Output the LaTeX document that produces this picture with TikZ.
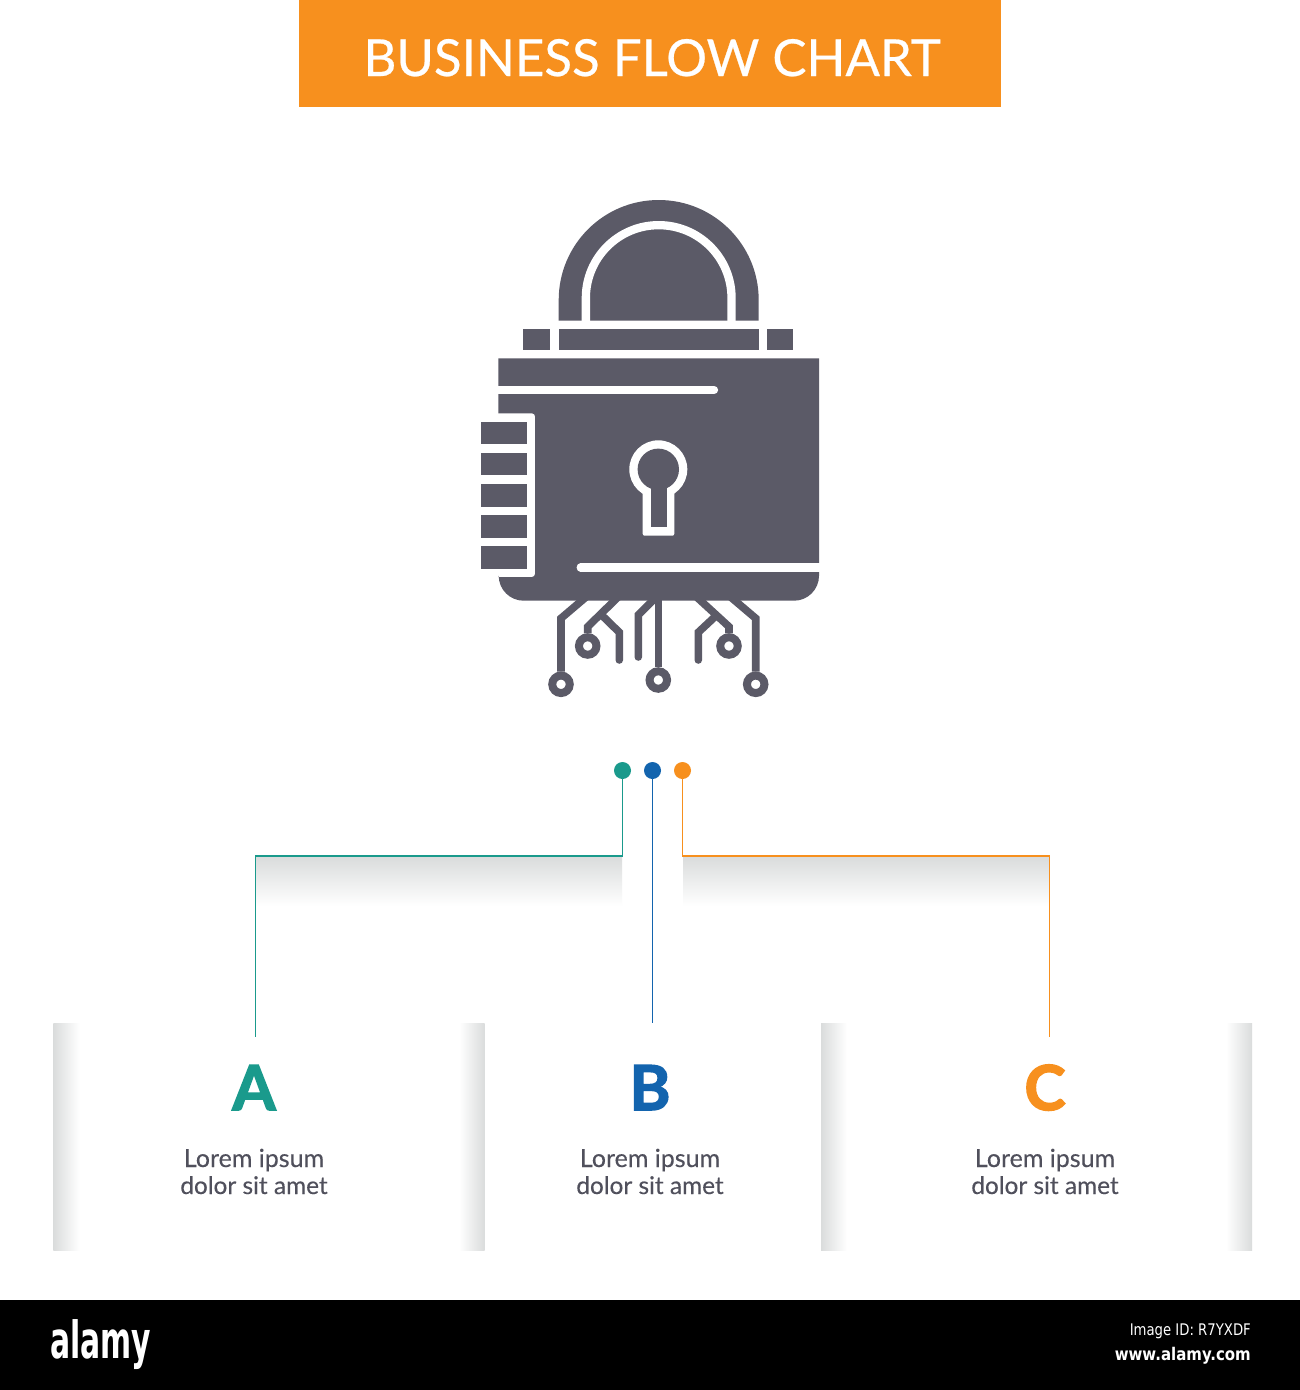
\documentclass[tikz,border=0pt]{standalone}
\usepackage{fontspec}
\usepackage{graphicx}
\setmainfont{Lato}
\newfontfamily\foot{DejaVu Sans}
\newfontfamily\midf[FakeBold=0.5]{Lato}
\newfontfamily\lightf[FakeBold=0.25]{Lato}
\newfontfamily\blackf[BoldFeatures={FakeBold=2.5}]{Lato}
\definecolor{icon}{HTML}{5B5A67}
\definecolor{txt}{HTML}{50505C}
\definecolor{cteal}{HTML}{1A9A8C}
\definecolor{cblue}{HTML}{1364AE}
\definecolor{corange}{HTML}{F7901E}
\definecolor{band}{HTML}{DADCDC}
\tikzset{
  trace/.style={draw=icon,line width=7.6pt,line join=miter},
  tracer/.style={trace,line cap=round},
  pad/.style={circle,draw=icon,line width=8pt,minimum size=17.5pt,inner sep=0pt,fill=white},
  dotmark/.style={circle,minimum size=17pt,inner sep=0pt},
  link/.style={line width=1.8pt},
  cutline/.style={draw=white,line width=8.3pt},
  letter/.style={anchor=base,font=\blackf\fontsize{62}{62}\selectfont\bfseries},
  bodya/.style={anchor=base,text=txt,font=\lightf\fontsize{25}{27}\selectfont},
  bodyb/.style={anchor=base,text=txt,font=\lightf\fontsize{24.4}{27}\selectfont},
}
\begin{document}
\begin{tikzpicture}[x=1pt,y=-1pt]
\useasboundingbox (0,0) rectangle (1300,1390);
\fill[white] (0,0) rectangle (1300,1390);
% header
\fill[corange] (299,0) rectangle (1001,106.5);
\node[anchor=base,text=white,font=\midf\fontsize{51}{51}\selectfont] (title) at (652,76) {BUSINESS FLOW CHART};
% circuit traces (their upper ends run under the lock body)
\node[pad] (p1) at (561,684.3) {};
\node[pad] (p2) at (587.7,646) {};
\node[pad] (p3) at (658.3,680) {};
\node[pad] (p4) at (729,646) {};
\node[pad] (p5) at (755.7,684.3) {};
\coordinate (t1) at (594.3,590);
\coordinate (t2) at (625.3,590);
\coordinate (t3) at (663.4,590);
\coordinate (t4) at (658.3,590);
\coordinate (t5) at (689,590);
\coordinate (t6) at (722.4,590);
\draw[trace] (t1) -- (561,618.3) -- (p1);
\draw[trace] (t6) -- (755.7,618.3) -- (p5);
\draw[trace] (t4) -- (p3);
\draw[trace] (t2) -- (587.7,626.7) -- (p2);
\draw[trace] (t5) -- (729,626.7) -- (p4);
\draw[tracer] (603.3,616.7) -- (619.3,632.3) -- (619.3,660);
\draw[tracer] (715,616.7) -- (698.3,632.3) -- (698.3,660);
\draw[tracer] (t3) -- (638.3,615) -- (638.3,657);
% lock: shackle
\fill[icon] (558.7,320.7) -- (558.7,300) arc[start angle=180,end angle=360,radius=100] -- (758.7,320.7) -- cycle;
\draw[cutline] (585.85,321) -- (585.85,298) arc[start angle=180,end angle=360,radius=72.85] -- (731.5,321);
\fill[icon] (522.7,329) rectangle (550,349.7);
\fill[icon] (558.7,329) rectangle (758.7,349.7);
\fill[icon] (767,329) rectangle (792.7,349.7);
% lock: body
\fill[icon] (498.3,358.3) -- (819,358.3) {[rounded corners=25pt] -- (819,600.7) -- (498.7,600.7)} -- (498.7,577) {[rounded corners=3pt] -- (535,577) -- (535,413.3)} -- (498.3,413.3) -- cycle;
\fill[white] (498,421.5) rectangle (527,569);
\draw[cutline,line cap=round] (498.3,390) -- (714,390);
\draw[cutline,line cap=round] (580.7,567.5) -- (815,567.5);
\fill[white] (815,563.35) rectangle (819.5,571.65);
\fill[white] (494,386) rectangle (500,394.3);
% chips
\foreach \a/\b in {421.7/444.3,453/475.3,484/506.7,515/537.7,546.3/569}{
  \fill[icon] (481,\a) rectangle (527,\b);
}
% keyhole
\fill[white] (658.3,469.3) circle[radius=29];
\fill[white,rounded corners=2pt] (642.7,485) rectangle (674.3,535.7);
\fill[icon] (658.3,469.3) circle[radius=20.7];
\fill[icon] (650.7,480) rectangle (666.7,527.3);
% gradient bands
\shade[top color=band,bottom color=white] (256,857) rectangle (622,906);
\shade[top color=band,bottom color=white] (683,857) rectangle (1049,906);
% panels
\shade[left color=band,right color=white] (53.4,1023.3) rectangle (79.5,1250);
\shade[left color=white,right color=band] (459,1023.3) rectangle (484.5,1250);
\shade[left color=band,right color=white] (821,1023.3) rectangle (847,1250);
\shade[left color=white,right color=band] (1226,1023.3) rectangle (1252,1250);
% connectors
\node[dotmark,fill=cteal] (da) at (622.5,770.5) {};
\node[dotmark,fill=cblue] (db) at (652.5,770.5) {};
\node[dotmark,fill=corange] (dc) at (682.5,770.5) {};
\coordinate (ca) at (255.5,855.7);
\coordinate (ea) at (255.5,1036.7);
\coordinate (eb) at (652.5,1023.3);
\coordinate (cc) at (1049.5,855.7);
\coordinate (ec) at (1049.5,1036.7);
\draw[link,draw=cteal] (da) |- (ca) -- (ea);
\draw[link,draw=cblue] (db) -- (eb);
\draw[link,draw=corange] (dc) |- (cc) -- (ec);
% labels
\node[letter,text=cteal] (la) at (254,1110) {A};
\node[letter,text=cblue] (lb) at (650,1110) {B};
\node[letter,text=corange] (lc) at (1045,1110) {C};
\node[bodya] (a1) at (254,1167) {Lorem ipsum};
\node[bodyb] (a2) at (254,1194) {dolor sit amet};
\node[bodya] (b1) at (650,1167) {Lorem ipsum};
\node[bodyb] (b2) at (650,1194) {dolor sit amet};
\node[bodya] (c1) at (1045,1167) {Lorem ipsum};
\node[bodyb] (c2) at (1045,1194) {dolor sit amet};
% footer
\fill[black] (0,1300) rectangle (1300,1390);
\node[anchor=west,text=white,inner sep=0pt] (brand) at (50,1345) {\resizebox*{101pt}{50pt}{\foot\bfseries alamy}};
\node[anchor=east,text=white,inner sep=0pt] (imgid) at (1251,1331.5) {\resizebox*{121pt}{15pt}{\foot Image ID: R7YXDF}};
\node[anchor=east,text=white,inner sep=0pt] (site) at (1251,1356) {\resizebox*{136pt}{17pt}{\foot\bfseries www.alamy.com}};
\end{tikzpicture}
\end{document}
